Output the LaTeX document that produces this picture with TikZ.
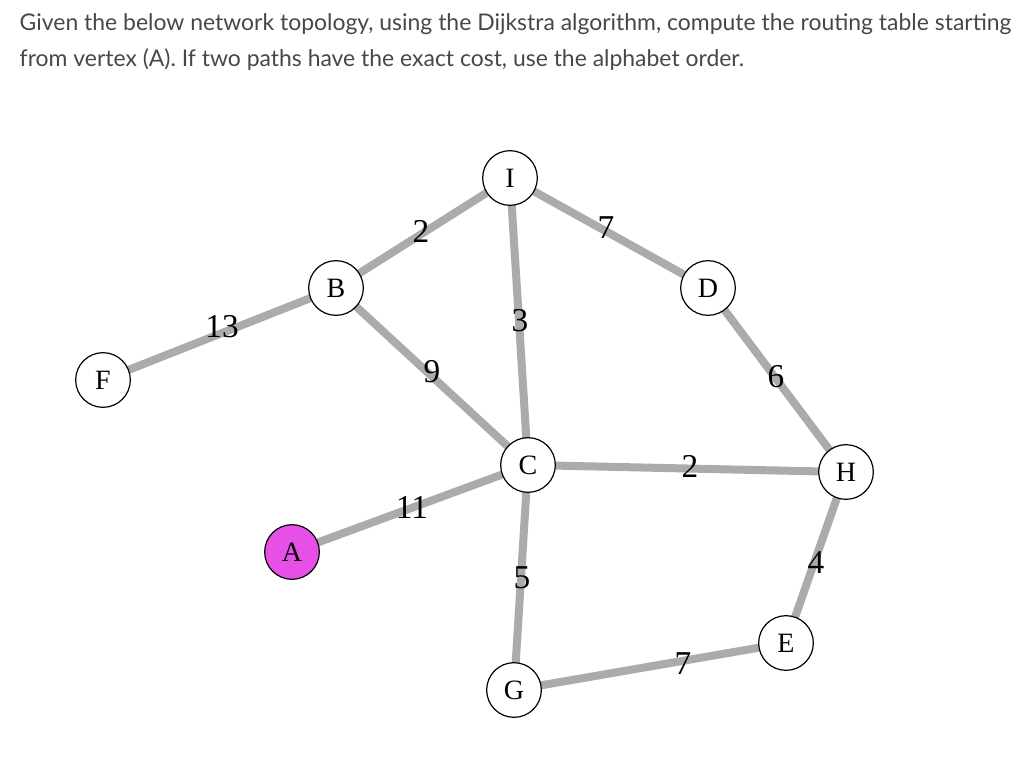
\documentclass[tikz,border=0pt]{standalone}
\usepackage{fontspec}
\setmainfont{Liberation Serif}
\newfontfamily\latofont{Lato}
\begin{document}
\begin{tikzpicture}[x=0.75pt,y=-0.75pt,
  vtx/.style={circle,draw=black,line width=0.9pt,fill=white,minimum size=41pt,inner sep=0pt,font=\fontsize{21}{21}\selectfont},
  edge/.style={draw=black!33,line width=6pt},
  lbl/.style={font=\fontsize{25}{25}\selectfont,inner sep=0pt}]
\useasboundingbox (0,0) rectangle (1024,763);
\node[anchor=west,align=left,text=black!72,font=\latofont\fontsize{17.2}{26.5}\selectfont] (title) at (15,42)
 {Given the below network topology, using the Dijkstra algorithm, compute the routing table starting\\from vertex (A). If two paths have the exact cost, use the alphabet order.};
\coordinate (pI) at (510,178); \coordinate (pB) at (336,288); \coordinate (pD) at (708,288);
\coordinate (pF) at (103,380); \coordinate (pC) at (528,465); \coordinate (pH) at (846,472);
\coordinate (pA) at (292,552); \coordinate (pE) at (786,643); \coordinate (pG) at (514,690);
\draw[edge] (pB)--(pI); \draw[edge] (pI)--(pD); \draw[edge] (pF)--(pB); \draw[edge] (pI)--(pC);
\draw[edge] (pB)--(pC); \draw[edge] (pD)--(pH); \draw[edge] (pC)--(pH); \draw[edge] (pA)--(pC);
\draw[edge] (pH)--(pE); \draw[edge] (pC)--(pG); \draw[edge] (pG)--(pE);
\node[lbl] (l1) at (421,231) {2}; \node[lbl] (l2) at (606,228) {7};
\node[lbl] (l3) at (222,327) {13}; \node[lbl] (l4) at (520,321) {3};
\node[lbl] (l5) at (432,372) {9}; \node[lbl] (l6) at (776,377) {6};
\node[lbl] (l7) at (690,466) {2}; \node[lbl] (l8) at (412,507) {11};
\node[lbl] (l9) at (816,563) {4}; \node[lbl] (l10) at (522,578) {5};
\node[lbl] (l11) at (683,664) {7};
\node[vtx] (I) at (pI) {I}; \node[vtx] (B) at (pB) {B}; \node[vtx] (D) at (pD) {D};
\node[vtx] (F) at (pF) {F}; \node[vtx] (C) at (pC) {C}; \node[vtx] (H) at (pH) {H};
\node[vtx,fill={rgb,255:red,230;green,80;blue,230}] (A) at (pA) {A};
\node[vtx] (E) at (pE) {E}; \node[vtx] (G) at (pG) {G};
\end{tikzpicture}
\end{document}
